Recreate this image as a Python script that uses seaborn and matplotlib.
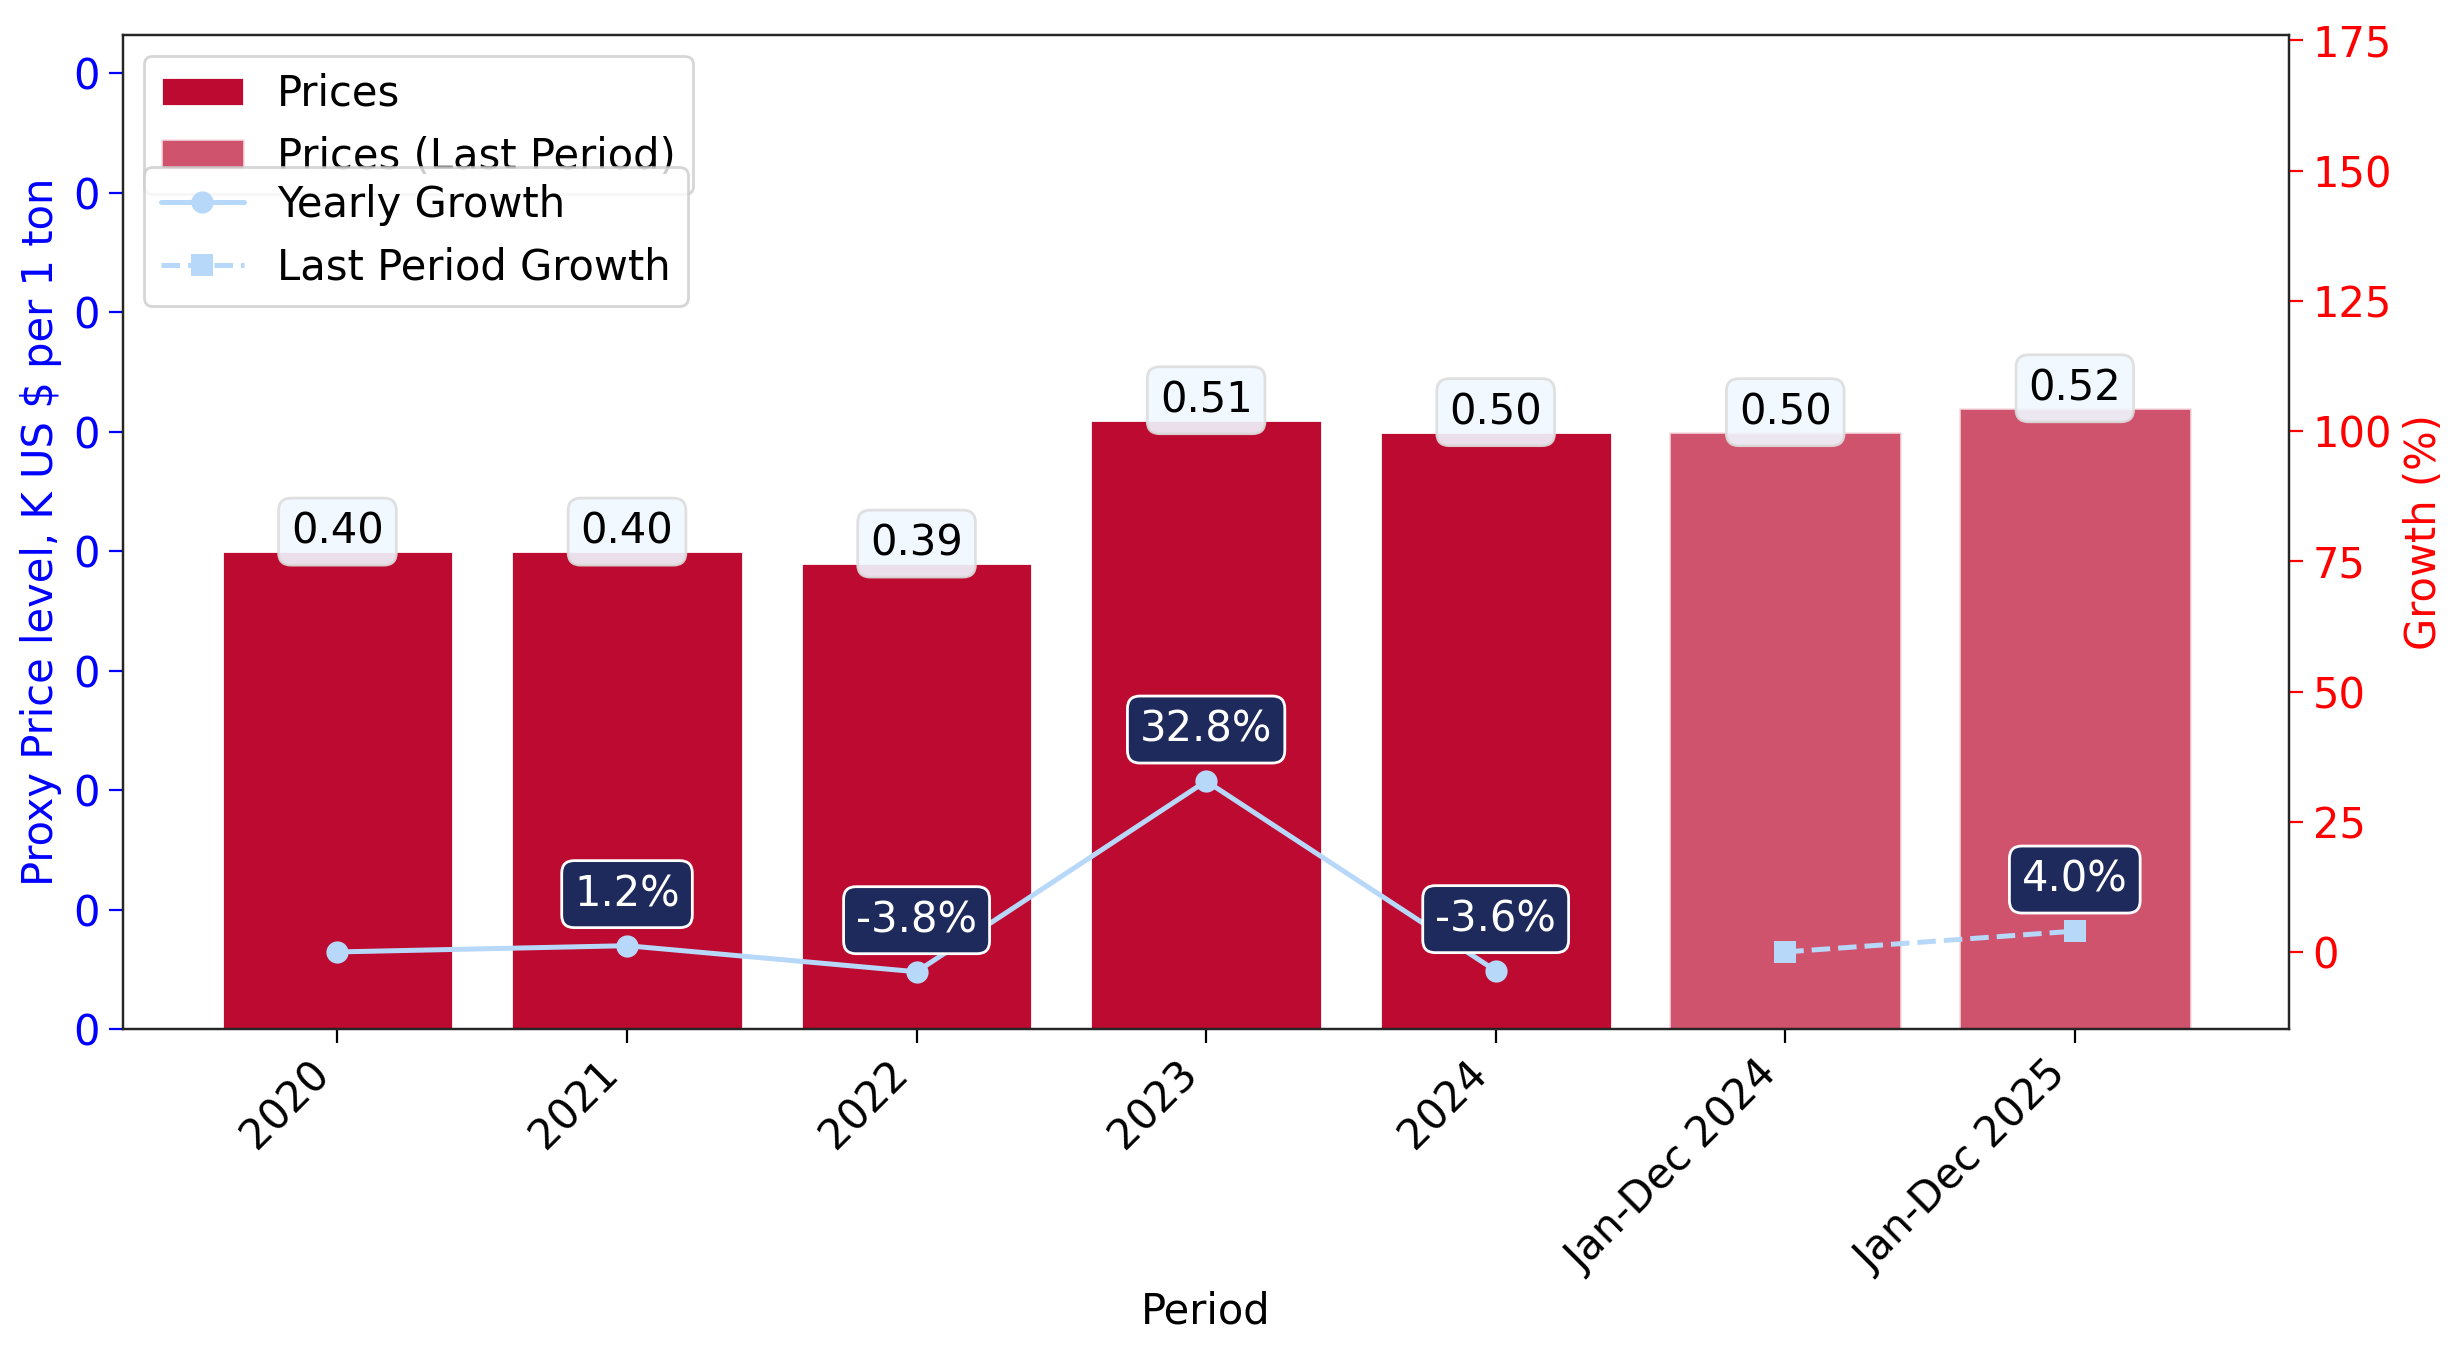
import numpy as np
import pandas as pd
import matplotlib
matplotlib.use("Agg")
import matplotlib.pyplot as plt
import seaborn as sns
from matplotlib.patches import Patch

# ---------------------------------------------
# Data
# ---------------------------------------------
periods = ["2020", "2021", "2022", "2023", "2024", "Jan-Dec 2024", "Jan-Dec 2025"]
prices = [0.40, 0.40, 0.39, 0.51, 0.50, 0.50, 0.52]
is_last_period = [False, False, False, False, False, True, True]

yearly_periods = ["2020", "2021", "2022", "2023", "2024"]
yearly_growth = [0.0, 1.2, -3.8, 32.8, -3.6]

last_periods = ["Jan-Dec 2024", "Jan-Dec 2025"]
last_growth = [0.0, 4.0]

BAR_COLOR = "#BC0A30"
LINE_COLOR = "#B8D8FA"
NAVY = "#1F2A5C"
FS = 15

sns.set_style("white")
plt.rcParams["font.family"] = ["DejaVu Sans"]
plt.rcParams["text.color"] = "black"
plt.rcParams["axes.labelcolor"] = "black"
plt.rcParams["xtick.color"] = "black"
plt.rcParams["ytick.color"] = "black"

df = pd.DataFrame({"Period": periods, "Price": prices, "Last": is_last_period})
df["pos"] = np.arange(len(df))

fig, ax = plt.subplots(figsize=(12.32, 6.77), dpi=200)
fig.subplots_adjust(left=0.05, right=0.929, bottom=0.24, top=0.974)

sns.barplot(
    data=df, x="Period", y="Price", order=periods,
    color=BAR_COLOR, saturation=1, width=0.8, ax=ax,
)
for patch, last in zip(ax.patches, is_last_period):
    if last:
        patch.set_alpha(0.7)

ax.set_xlim(-0.74, len(periods) - 0.26)
ax.set_ylim(0, max(prices) * 1.6)
ax.yaxis.set_major_locator(matplotlib.ticker.MultipleLocator(0.1))
ax.yaxis.set_major_formatter(matplotlib.ticker.FuncFormatter(lambda v, p: f"{int(v)}"))
ax.tick_params(axis="y", colors="blue", labelsize=FS, length=5, left=True)
ax.tick_params(axis="x", labelsize=FS, length=5, colors="black", bottom=True)
ax.set_ylabel("Proxy Price level, K US $ per 1 ton", color="blue", fontsize=FS)
ax.set_xlabel("Period", fontsize=FS, color="black")
plt.setp(ax.get_xticklabels(), rotation=45, ha="right")
for s in ax.spines.values():
    s.set_color("black")

for x, v in zip(df["pos"], prices):
    ax.annotate(
        f"{v:.2f}", (x, v), xytext=(0, -0.5), textcoords="offset points",
        ha="center", va="bottom", fontsize=FS, color="black",
        bbox=dict(boxstyle="round,pad=0.3", fc="#F0F8FF", ec="#DDDDDD", alpha=0.9),
    )

# ---------------------------------------------
# Growth on twin axis
# ---------------------------------------------
ax2 = ax.twinx()
yx = [periods.index(p) for p in yearly_periods]
lx = [periods.index(p) for p in last_periods]

sns.lineplot(x=yx, y=yearly_growth, ax=ax2, color=LINE_COLOR, marker="o",
             markersize=8, markeredgewidth=0, linewidth=1.8, label="Yearly Growth")
sns.lineplot(x=lx, y=last_growth, ax=ax2, color=LINE_COLOR, marker="s",
             markersize=8, markeredgewidth=0, linewidth=1.8, linestyle="--",
             label="Last Period Growth")

ax2.set_ylim(-14.8, 176)
ax2.set_ylabel("Growth (%)", color="red", fontsize=FS)
ax2.tick_params(axis="y", colors="red", labelsize=FS, length=5, right=True)
ax2.set_xlim(ax.get_xlim())

for x, g in list(zip(yx, yearly_growth)) + list(zip(lx, last_growth)):
    if g == 0:
        continue
    ax2.annotate(
        f"{g:.1f}%", (x, g), xytext=(0, 11), textcoords="offset points",
        ha="center", va="bottom", fontsize=FS, color="white",
        bbox=dict(boxstyle="round,pad=0.3", fc=NAVY, ec="white"),
    )

# legends
bar_handles = [
    Patch(facecolor=BAR_COLOR, label="Prices"),
    Patch(facecolor=BAR_COLOR, alpha=0.7, label="Prices (Last Period)"),
]
leg1 = ax2.legend(handles=bar_handles, loc="upper left", fontsize=FS)
ax2.add_artist(leg1)
h, l = ax2.get_legend_handles_labels()
ax2.legend(h, l, loc="upper left", bbox_to_anchor=(0.0, 0.888), fontsize=FS)

fig.savefig("out.png", dpi=200)
